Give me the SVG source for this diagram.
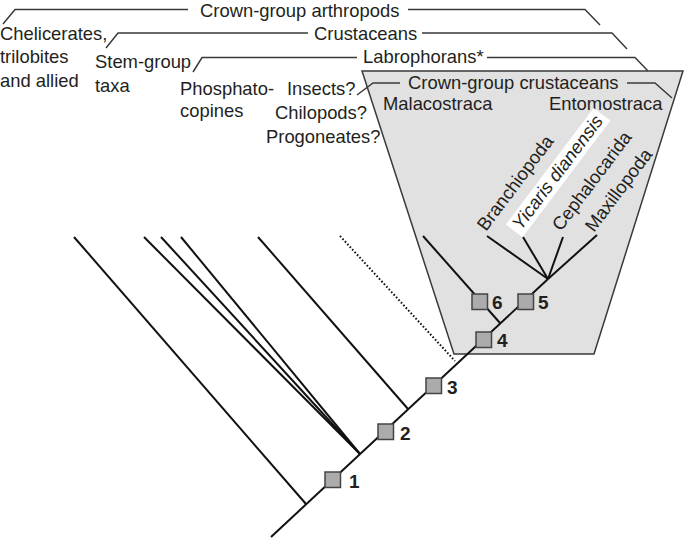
<svg xmlns="http://www.w3.org/2000/svg" width="685" height="538" viewBox="0 0 685 538">
<style>
  text { font-family: "Liberation Sans", Arial, Helvetica, sans-serif; font-size: 18.4px; fill: #231f20; }
  .num { font-weight: bold; font-size: 19px; }
  .it { font-style: italic; }
  .br { fill: none; stroke: #3a3a3a; stroke-width: 1.5; }
  .tr { fill: none; stroke: #111; stroke-width: 2; stroke-linecap: butt; }
  .dot { fill: none; stroke: #111; stroke-width: 2; stroke-dasharray: 1.6 2; }
  .box { fill: #ababab; stroke: #444; stroke-width: 1.5; }
</style>
<rect width="685" height="538" fill="#fff"/>

<g id="crown-crustaceans-zone">
  <polygon points="362,71 683,71 594,354 454,354" fill="#e1e1e1" stroke="#3a3a3a" stroke-width="1.5"/>
</g>

<g id="connectors">
  <!-- brackets -->
  <polyline class="br" points="3,24 15,9.5 188,9.5"/>
  <polyline class="br" points="408,9.5 585,9.5 600,25"/>
  <polyline class="br" points="106,48 118,33 308,33"/>
  <polyline class="br" points="422,33 612,33 627,49"/>
  <polyline class="br" points="193,72 202,57.5 357,57.5"/>
  <polyline class="br" points="487,57.5 635,57.5 648,71"/>
  <polyline class="br" points="357,95 373,83 400,83"/>
  <polyline class="br" points="627,83 655,83 672,98"/>
  <!-- tree -->
  <line class="tr" x1="271" y1="537" x2="548" y2="279"/>
  <line class="tr" x1="74" y1="237" x2="306" y2="504"/>
  <line class="tr" x1="144" y1="237" x2="360" y2="454"/>
  <line class="tr" x1="161" y1="237" x2="360" y2="454"/>
  <line class="tr" x1="181" y1="237" x2="360" y2="454"/>
  <line class="tr" x1="258" y1="237" x2="408" y2="409"/>
  <line class="dot" x1="340" y1="236" x2="455" y2="361"/>
  <line class="tr" x1="423" y1="236" x2="500" y2="323"/>
  <line class="tr" x1="487" y1="236" x2="548" y2="279"/>
  <line class="tr" x1="523" y1="237" x2="548" y2="279"/>
  <line class="tr" x1="563" y1="237" x2="548" y2="279"/>
  <line class="tr" x1="597" y1="235" x2="548" y2="279"/>
</g>

<g id="labels-brackets">
  <text x="200" y="17">Crown-group arthropods</text>
  <text x="314" y="40">Crustaceans</text>
  <text x="363" y="63">Labrophorans*</text>
  <text x="408" y="89">Crown-group crustaceans</text>
</g>

<g id="chelicerates"><text x="0" y="40">Chelicerates,</text><text x="0" y="63">trilobites</text><text x="0" y="87">and allied</text></g>
<g id="stem-group"><text x="95" y="68">Stem-group</text><text x="95" y="92">taxa</text></g>
<g id="phosphatocopines"><text x="180" y="95">Phosphato-</text><text x="180" y="117">copines</text></g>
<g id="insects"><text x="287" y="95">Insects?</text></g>
<g id="chilopods"><text x="275" y="119">Chilopods?</text></g>
<g id="progoneates"><text x="266" y="143">Progoneates?</text></g>
<g id="malacostraca"><text x="383" y="110">Malacostraca</text></g>
<g id="entomostraca"><text x="549" y="110">Entomostraca</text></g>

<g id="branchiopoda"><text transform="translate(486,232) rotate(-53)">Branchiopoda</text></g>
<g id="yicaris">
  <g transform="translate(521,231) rotate(-53)">
    <rect x="-4" y="-16" width="146" height="21" fill="#fff"/>
    <text class="it" x="0" y="0">Yicaris dianensis</text>
  </g>
</g>
<g id="cephalocarida"><text transform="translate(561,232) rotate(-53)">Cephalocarida</text></g>
<g id="maxillopoda"><text transform="translate(594,233) rotate(-53)">Maxillopoda</text></g>

<g id="m1"><rect class="box" x="325" y="472" width="15.5" height="15.5"/><text class="num" x="349" y="488">1</text></g>
<g id="m2"><rect class="box" x="378" y="424" width="15.5" height="15.5"/><text class="num" x="400" y="440">2</text></g>
<g id="m3"><rect class="box" x="426" y="378" width="15.5" height="15.5"/><text class="num" x="447" y="394">3</text></g>
<g id="m4"><rect class="box" x="476" y="332" width="15.5" height="15.5"/><text class="num" x="497" y="347">4</text></g>
<g id="m5"><rect class="box" x="518" y="294" width="15.5" height="15.5"/><text class="num" x="538" y="309">5</text></g>
<g id="m6"><rect class="box" x="472" y="294" width="15.5" height="15.5"/><text class="num" x="492" y="309">6</text></g>
</svg>
